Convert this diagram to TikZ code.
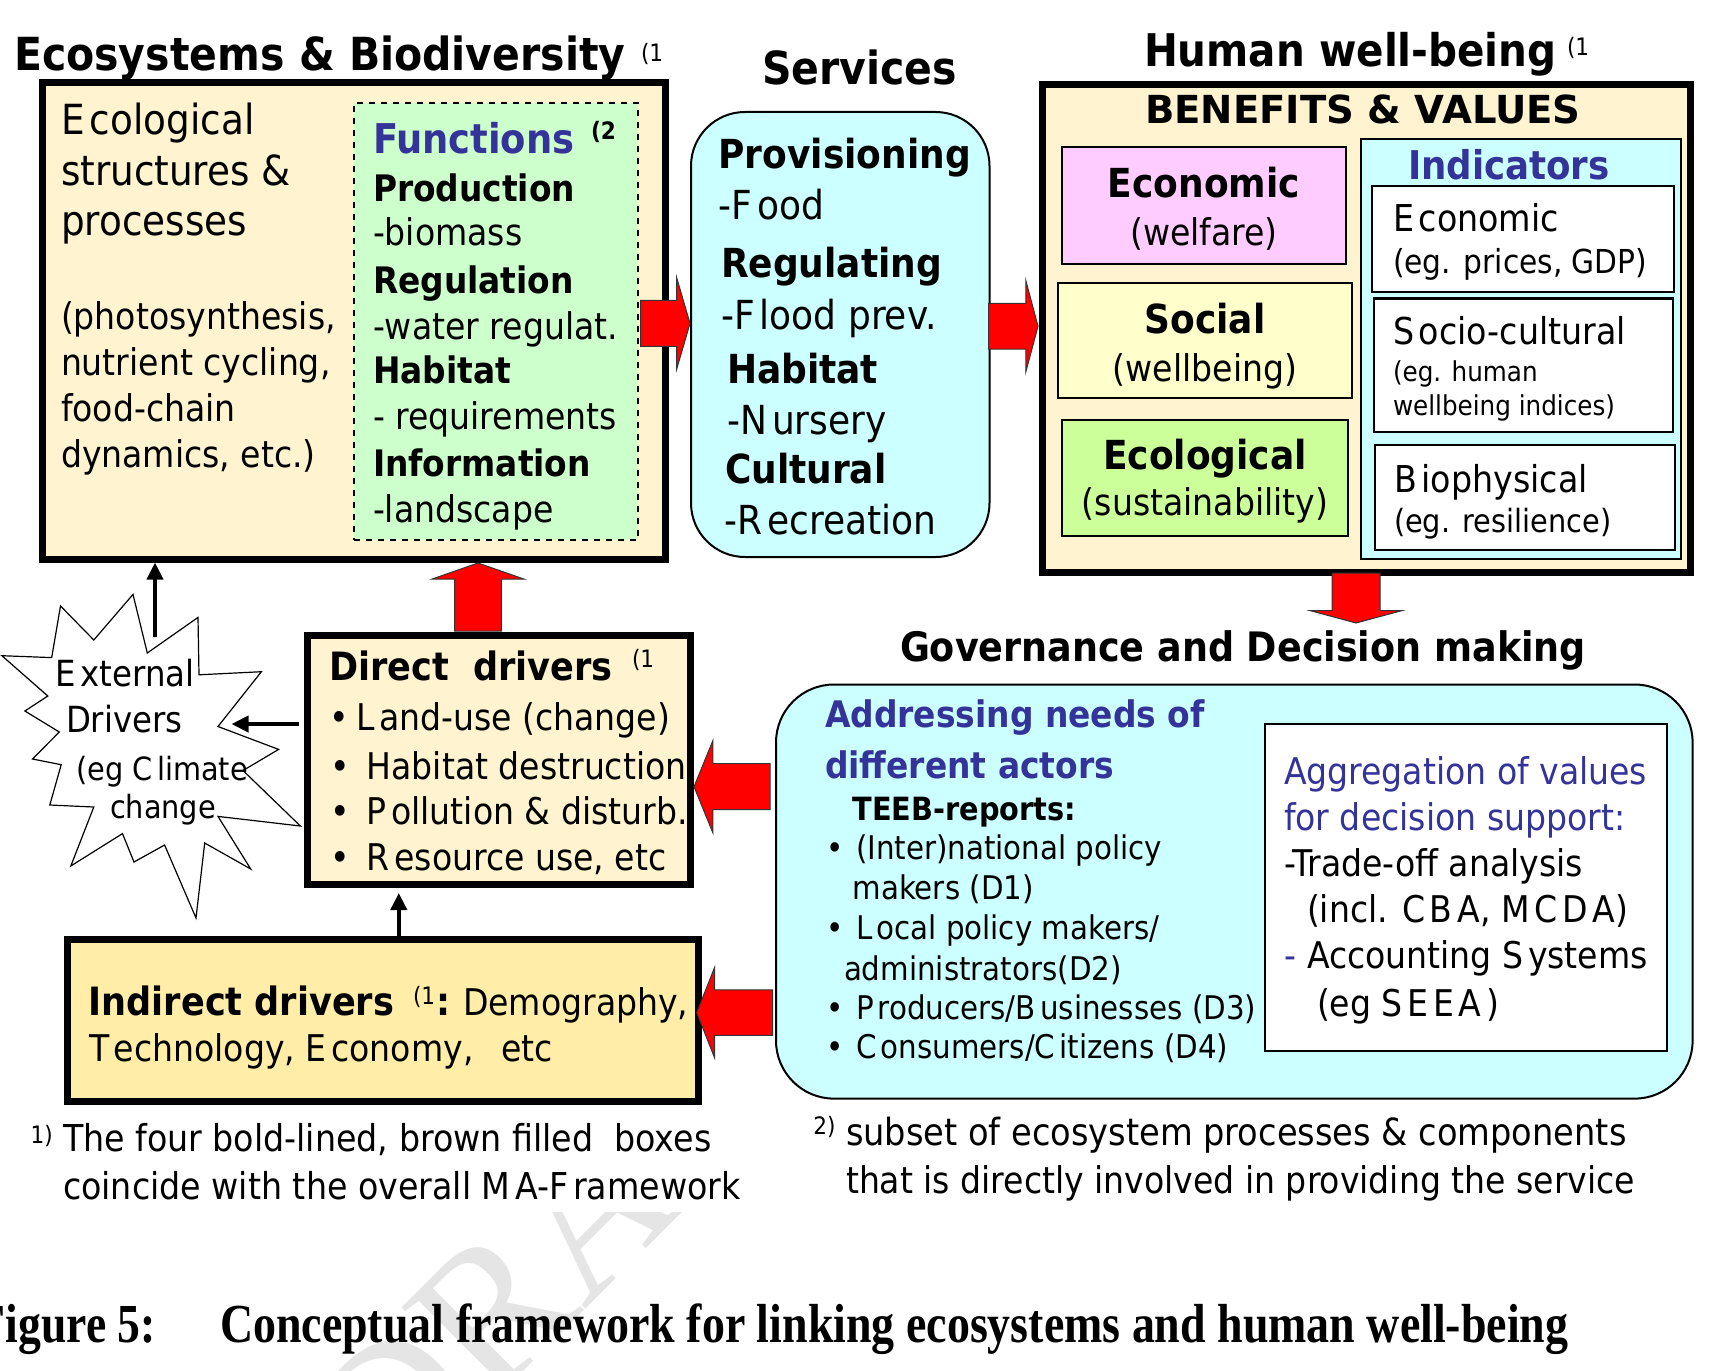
\documentclass[tikz,border=0pt]{standalone}
\usepackage{graphicx}
\usepackage{fontspec}
\setmainfont{DejaVu Sans Condensed}
\newfontfamily\dvsans{DejaVu Sans}
\newfontfamily\capserif{Liberation Serif}
\usetikzlibrary{arrows.meta,calc}
\definecolor{creamA}{HTML}{FFF4CF}
\definecolor{creamB}{HTML}{FFEDA8}
\definecolor{lgreen}{HTML}{CCFFCC}
\definecolor{lcyan}{HTML}{CCFFFF}
\definecolor{lpink}{HTML}{FFCCFF}
\definecolor{lyellow}{HTML}{FFFFCC}
\definecolor{ygreen}{HTML}{CCFF99}
\definecolor{navy}{HTML}{333399}
\newcommand\fs[1]{\fontsize{#1pt}{#1pt}\selectfont}
\newcommand\K{\kern0.13em}
\newcommand\boxat[6]{%
  \pgfmathsetmacro\bxw{(#5-#3)*0.5}%
  \pgfmathsetmacro\bxh{(#6-#4)*0.5}%
  \pgfmathsetmacro\bxx{(#3+#5)/2}%
  \pgfmathsetmacro\bxy{(#4+#6)/2}%
  \node[#1, minimum width=\bxw pt, minimum height=\bxh pt, inner sep=0pt] (#2) at (\bxx,\bxy) {};}
\newcommand\harrow[5]{\filldraw[redarr] (#2) -- ($(#2)+(#5,-#4)$) -- ($(#2)+(#5,-#3)$) -- ($(#1)+(0,-#3)$) -- ($(#1)+(0,#3)$) -- ($(#2)+(#5,#3)$) -- ($(#2)+(#5,#4)$) -- cycle;}
\newcommand\varrow[5]{\filldraw[redarr] (#2) -- ($(#2)+(-#4,#5)$) -- ($(#2)+(-#3,#5)$) -- ($(#1)+(-#3,0)$) -- ($(#1)+(#3,0)$) -- ($(#2)+(#3,#5)$) -- ($(#2)+(#4,#5)$) -- cycle;}
\begin{document}
\begin{tikzpicture}[x=0.5pt,y=-0.5pt,
  boldbox/.style={rectangle, draw=black, line width=3.5pt, fill=creamA},
  thinbox/.style={rectangle, draw=black, line width=1pt},
  redarr/.style={fill=red, draw=black!80, line width=0.5pt, line join=miter},
  blk/.style={line width=2pt, -{Triangle[length=8.5pt,width=8pt]}},
  txt/.style={anchor=base west, inner sep=0pt, outer sep=0pt},
  ctxt/.style={anchor=base, inner sep=0pt, outer sep=0pt},
  ttl/.style={font=\fs{22.8}\bfseries},
  body/.style={font=\fs{18.4}},
  big/.style={font=\fs{20.75}},
  bbody/.style={font=\fs{18.25}\bfseries},
  sup/.style={font=\fs{12}},
  serv/.style={font=\fs{20}},
  bserv/.style={font=\fs{20}\bfseries},
  lst/.style={font=\fs{16.3}}]
\useasboundingbox (0,0) rectangle (1727,1370);
\fill[white] (0,0) rectangle (1727,1370);

% ---------- watermark (only its lower part shows) ----------
\begin{scope}
\clip (0,1212) rectangle (1727,1370);
\node[rotate=45, anchor=base west, inner sep=0pt, font=\capserif\fs{100}, text=gray!20] (wm) at (388,1507) {DRAFT};
\end{scope}

% ---------- boxes ----------
\boxat{boldbox}{eco}{42}{83}{665}{559}
\boxat{rectangle, draw=black, line width=0.6pt, dashed, fill=lgreen}{func}{354}{103}{638}{540}
\boxat{rectangle, draw=black, line width=1pt, fill=lcyan, rounded corners=27pt}{serv}{691}{112}{989.5}{557}
\boxat{boldbox}{hum}{1042.5}{85}{1690}{572.5}
\boxat{thinbox, fill=lpink}{hecon}{1062}{147}{1346}{264}
\boxat{thinbox, fill=lyellow}{hsoc}{1058}{283}{1352}{398}
\boxat{thinbox, fill=ygreen}{hecol}{1062}{420}{1348}{536}
\boxat{thinbox, line width=0.7pt, fill=lcyan}{hind}{1361}{139}{1681}{559}
\boxat{thinbox, line width=1.2pt, fill=white}{iw1}{1372}{186}{1674}{292}
\boxat{thinbox, line width=1.2pt, fill=white}{iw2}{1374}{298.5}{1673}{432}
\boxat{thinbox, line width=1.2pt, fill=white}{iw3}{1375}{445}{1675}{550}
\boxat{boldbox}{dd}{307}{635.5}{690}{884.5}
\boxat{boldbox, fill=creamB}{idd}{67}{939}{698}{1101.5}
\boxat{rectangle, draw=black, line width=1pt, fill=lcyan, rounded corners=29pt}{gov}{776}{684.5}{1692.6}{1098.6}
\boxat{thinbox, fill=white}{agg}{1264.8}{723.5}{1666.6}{1050.7}

% ---------- external drivers star ----------
\filldraw[fill=white, draw=black, line width=0.6pt, line join=miter]
  (60.5,606) -- (93.8,640) -- (133,594.4) -- (147.3,653) -- (198,617.4) -- (199,674.8)
  -- (261.4,671.7) -- (218,726.5) -- (278.6,749.4) -- (243,770.5) -- (300.4,826)
  -- (218,816.4) -- (250.7,869) -- (204.7,843) -- (196,918) -- (164.6,845)
  -- (134,862) -- (122.5,833.6) -- (70.8,866) -- (93.8,807) -- (49.8,805)
  -- (61.2,764.7) -- (32.5,759) -- (59.3,732) -- (24.9,711) -- (47.8,696)
  -- (1.9,655.7) -- (51.7,657.6) -- cycle;
\coordinate (extTop) at (155,636.5);
\coordinate (extR) at (231.5,724);

% ---------- red block arrows ----------
\coordinate (a1s) at (640.5,323.4); \coordinate (a1t) at (serv.west |- a1s);
\harrow{a1s}{a1t}{23}{46}{-13.4}
\coordinate (a2s) at (988.7,326.2); \coordinate (a2t) at (1038,326.2);
\harrow{a2s}{a2t}{22.8}{45.8}{-12.2}
\coordinate (a3s) at (1356,573); \coordinate (a3t) at (1356,623);
\varrow{a3s}{a3t}{24}{46}{-12.4}
\coordinate (a4s) at (478,631); \coordinate (a4t) at (478,563);
\varrow{a4s}{a4t}{23.3}{45.8}{16}
\coordinate (a5s) at (770,786.7); \coordinate (a5t) at (694,786.7);
\harrow{a5s}{a5t}{23}{46}{18.8}
\coordinate (a6s) at (772.5,1012.6); \coordinate (a6t) at (696.7,1012.6);
\harrow{a6s}{a6t}{22.7}{45.5}{18}

% ---------- black arrows ----------
\draw[blk] (extTop) -- (extTop |- eco.south);
\draw[blk] ($(dd.west |- extR)+(-5,0)$) -- (extR);
\coordinate (b3) at (398.8,0);
\draw[blk] (idd.north -| b3) -- ($(dd.south -| b3)+(0,5)$);

% ---------- titles ----------
\node[txt, ttl] (tEco) at (14,71) {Ecosystems \& Biodiversity};
\node[txt, sup] (tEcoS) at (641,62) {(1};
\node[txt, ttl] (tServ) at (762,84) {Services};
\node[txt, font=\fs{22.5}\bfseries] (tHum) at (1144,67) {Human well-being};
\node[txt, sup] (tHumS) at (1567,56) {(1};
\node[txt, font=\fs{20.3}\bfseries] (tGov) at (900,661) {Governance and Decision making};

% ---------- ecosystem box text ----------
\node[txt, big] (e1) at (61,134) {E\K cological};
\node[txt, big] (e2) at (61,185) {structures \&};
\node[txt, big] (e3) at (61,235) {processes};
\node[txt, body] (e4) at (61,329) {(photosynthesis,};
\node[txt, body] (e5) at (61,375) {nutrient cycling,};
\node[txt, body] (e6) at (61,421) {food-chain};
\node[txt, body] (e7) at (61,467) {dynamics, etc.)};
\node[txt, font=\fs{20.5}\bfseries, text=navy] (f0) at (373,153) {Functions};
\node[txt, font=\fs{12}\bfseries] (f0s) at (591,140) {(2};
\node[txt, bbody] (f1) at (373,201) {Production};
\node[txt, body] (f2) at (373,245) {-biomass};
\node[txt, bbody] (f3) at (373,293) {Regulation};
\node[txt, body] (f4) at (373,339) {-water regulat.};
\node[txt, bbody] (f5) at (373,383) {Habitat};
\node[txt, body] (f6) at (373,429) {- requirements};
\node[txt, bbody] (f7) at (373,476) {Information};
\node[txt, body] (f8) at (373,522) {-landscape};

% ---------- services text ----------
\node[txt, bserv] (s1) at (718.5,168) {Provisioning};
\node[txt, serv] (s2) at (718.5,219) {-F\K ood};
\node[txt, bserv] (s3) at (721,277.5) {Regulating};
\node[txt, serv] (s4) at (721,329) {-F\K lood prev.};
\node[txt, bserv] (s5) at (727,383) {Habitat};
\node[txt, serv] (s6) at (727,434) {-N\K ursery};
\node[txt, bserv] (s7) at (725,483) {Cultural};
\node[txt, serv] (s8) at (724,534) {-R\K ecreation};

% ---------- human well-being text ----------
\node[txt, font=\dvsans\fs{19.3}\bfseries] (hb) at (1145,124) {BENEFITS \& VALUES};
\node[ctxt, bserv] (hec1) at (1204,197) {Economic};
\node[ctxt, body] (hec2) at (1204,245) {(welfare)};
\node[ctxt, bserv] (hso1) at (1205,333) {Social};
\node[ctxt, body] (hso2) at (1205,381) {(wellbeing)};
\node[ctxt, bserv] (hel1) at (1205,469) {Ecological};
\node[ctxt, body] (hel2) at (1205,515) {(sustainability)};
\node[txt, font=\fs{19.8}\bfseries, text=navy] (hi0) at (1408,179) {Indicators};
\node[txt, font=\fs{18.5}] (hi1) at (1393,231.5) {E\K conomic};
\node[txt, font=\fs{16.5}] (hi2) at (1393,273) {(eg. prices, GDP)};
\node[txt, font=\fs{18.5}] (hi3) at (1393,344.5) {S\K ocio-cultural};
\node[txt, font=\fs{13.7}] (hi4) at (1393,381) {(eg. human};
\node[txt, font=\fs{13.7}] (hi5) at (1393,415) {wellbeing indices)};
\node[txt, font=\fs{18.5}] (hi6) at (1394,492) {B\K iophysical};
\node[txt, font=\fs{16}] (hi7) at (1394,532) {(eg. resilience)};

% ---------- drivers text ----------
\node[txt, font=\fs{18}] (x1) at (55.5,686) {E\K xternal};
\node[txt, font=\fs{18}] (x2) at (66,732) {Drivers};
\node[txt, font=\fs{16}] (x3) at (76.5,780) {(eg C\K limate};
\node[txt, font=\fs{16}] (x4) at (110,818) {change};

\node[txt, font=\fs{19.5}\bfseries] (d0) at (329,680.5) {Direct\ \ drivers};
\node[txt, sup] (d0s) at (632,667) {(1};
\node[txt, body] (db1) at (329,730) {•};
\node[txt, body] (d1) at (356,730) {L\K and-use (change)};
\node[txt, body] (db2) at (330,779) {•};
\node[txt, body] (d2) at (366.6,779) {Habitat destruction};
\node[txt, body] (db3) at (330,824) {•};
\node[txt, body] (d3) at (366.6,824) {P\K ollution \& disturb.};
\node[txt, body] (db4) at (330,870) {•};
\node[txt, body] (d4) at (366.6,870) {R\K esource use, etc};

\node[txt, font=\fs{19.5}\bfseries] (i0) at (88.8,1015.4) {Indirect drivers};
\node[txt, sup] (i0s) at (413,1004) {(1};
\node[txt, font=\fs{19.5}\bfseries] (i0c) at (436,1015.4) {:};
\node[txt, body] (i0d) at (463,1015.4) {Demography,};
\node[txt, body] (i1) at (89,1061) {T\K echnology, E\K conomy,\hspace{0.75em}etc};

% ---------- governance text ----------
\node[txt, font=\fs{18.3}\bfseries, text=navy] (g1) at (825,727) {Addressing needs of};
\node[txt, font=\fs{18.3}\bfseries, text=navy] (g2) at (825,778) {different actors};
\node[txt, font=\fs{16}\bfseries] (g3) at (852.5,820) {TEEB-reports:};
\node[txt, lst] (gb1) at (826,859.4) {•};
\node[txt, lst] (g4) at (856,859.4) {(Inter)national policy};
\node[txt, lst] (g5) at (852.5,899.6) {makers (D1)};
\node[txt, lst] (gb2) at (826,939.7) {•};
\node[txt, lst] (g6) at (856,939.7) {L\K ocal policy makers/};
\node[txt, lst] (g7) at (844,980) {administrators(D2)};
\node[txt, lst] (gb3) at (826,1019) {•};
\node[txt, lst] (g8) at (856,1019) {P\K roducers/B\K usinesses (D3)};
\node[txt, lst] (gb4) at (826,1058.4) {•};
\node[txt, lst] (g9) at (856,1058.4) {C\K onsumers/C\K itizens (D4)};

\node[txt, body, text=navy] (ag1) at (1284,784.7) {Aggregation of values};
\node[txt, body, text=navy] (ag2) at (1284,830.7) {for decision support:};
\node[txt, body] (ag3) at (1284,876.6) {-Trade-off analysis};
\node[txt, body] (ag4) at (1307,922.5) {(incl. C\K B\K A, M\K C\K D\K A)};
\node[txt, body, text=navy] (ag5a) at (1284,968.4) {-};
\node[txt, body] (ag5) at (1307,968.4) {Accounting S\K ystems};
\node[txt, body] (ag6) at (1317,1016) {(eg S\K E\K E\K A\K )};

% ---------- footnotes ----------
\node[txt, sup] (fn1s) at (30.6,1143) {1)};
\node[txt, font=\fs{18.5}] (fn1a) at (63,1151) {The four bold-lined, brown filled\ \ boxes};
\node[txt, font=\fs{18.5}] (fn1b) at (63,1199) {coincide with the overall M\K A-F\K ramework};
\node[txt, sup] (fn2s) at (813.4,1134) {2)};
\node[txt, font=\fs{18.7}] (fn2a) at (846,1145.6) {subset of ecosystem processes \& components};
\node[txt, font=\fs{18.4}] (fn2b) at (846,1193.5) {that is directly involved in providing the service};

% ---------- caption ----------
\node[txt, font=\capserif\bfseries\fs{27.5}] (cap1) at (-22,1342) {\scalebox{0.83}[1]{Figure 5:}};
\node[txt, font=\capserif\bfseries\fs{27.5}] (cap2) at (220,1342) {\scalebox{0.835}[1]{Conceptual framework for linking ecosystems and human well-being}};
\end{tikzpicture}
\end{document}
